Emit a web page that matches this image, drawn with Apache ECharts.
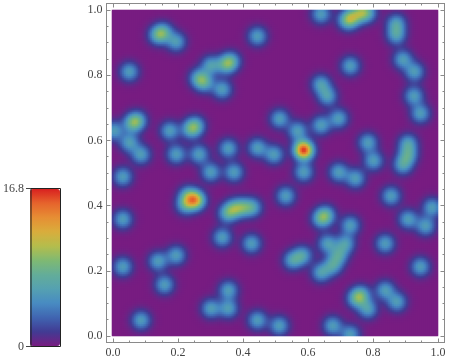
<!DOCTYPE html>
<html><head><meta charset="utf-8">
<style>html,body{margin:0;padding:0;background:#fff}#c{width:450px;height:359px}</style>
<script src="https://cdn.jsdelivr.net/npm/echarts@6/dist/echarts.min.js"></script>
</head><body><div id="c"></div>
<script>
// Sample locations, one entry per kernel. The smooth surface is
// a kernel density built from these read locations (the reference is itself such a density).
const pointX = [0.141,0.159,0.198,0.447,0.054,0.350,0.366,0.304,0.267,0.285,0.339,0.063,0.079,0.242,0.258,0.006,0.178,0.515,0.054,0.090,0.198,0.268,0.358,0.447,0.498,0.304,0.375,0.034,
0.642,0.762,0.784,0.736,0.722,0.873,0.873,0.732,0.893,0.929,0.642,0.662,0.927,0.947,0.696,0.642,0.570,0.585,0.589,0.593,0.786,0.803,0.909,0.909,0.893,0.589,0.696,0.748,
0.258,0.258,0.234,0.226,0.034,0.355,0.375,0.401,0.432,0.339,0.429,0.198,0.142,0.034,0.162,0.358,0.304,0.358,0.090,0.447,0.514,
0.534,0.857,0.983,0.909,0.963,0.642,0.658,0.732,0.662,0.717,0.696,0.678,0.642,0.586,0.555,0.839,0.947,0.839,0.875,0.750,0.766,0.786,0.678,0.732];
const pointY = [0.923,0.933,0.903,0.920,0.811,0.832,0.844,0.831,0.792,0.778,0.757,0.652,0.662,0.634,0.646,0.630,0.630,0.667,0.594,0.557,0.558,0.558,0.576,0.578,0.557,0.503,0.503,0.489,
0.988,0.992,0.992,0.976,0.968,0.959,0.923,0.829,0.849,0.811,0.773,0.736,0.737,0.683,0.668,0.647,0.630,0.571,0.575,0.567,0.594,0.538,0.591,0.555,0.525,0.503,0.503,0.484,
0.417,0.417,0.432,0.402,0.359,0.376,0.392,0.395,0.395,0.303,0.284,0.248,0.230,0.213,0.158,0.141,0.085,0.085,0.049,0.049,0.032,
0.430,0.430,0.395,0.359,0.338,0.360,0.372,0.340,0.284,0.284,0.248,0.216,0.195,0.248,0.233,0.284,0.213,0.141,0.105,0.115,0.127,0.083,0.032,0.005];
const kernelPeak = 5.6, kernelWidth = 0.02;
const cellsPerSide = 163;
const scaleMax = 16.8;
const rainbow = ['#781C81','#413B93','#4065B1','#488BC2','#55A1B1','#63AD99','#7FB972','#B5BD4C','#D9AD3C','#E68E34','#E6642C','#D92120'];
const majorTicks = [0,0.2,0.4,0.6,0.8,1];
const minorTicks = [0.05,0.1,0.15,0.25,0.3,0.35,0.45,0.5,0.55,0.65,0.7,0.75,0.85,0.9,0.95];

const cats = [], cells = [];
for (let i = 0; i < cellsPerSide; i++) cats.push(i);
for (let i = 0; i < cellsPerSide; i++) for (let j = 0; j < cellsPerSide; j++) {
  const x = (i + 0.5) / cellsPerSide, y = (j + 0.5) / cellsPerSide;
  let v = 0;
  for (let k = 0; k < pointX.length; k++) {
    const dx = x - pointX[k], dy = y - pointY[k];
    v += kernelPeak * Math.exp(-(dx*dx + dy*dy) / (2 * kernelWidth * kernelWidth));
  }
  cells.push([i, j, Math.min(v, scaleMax)]);
}
const font = {fontFamily:'"Liberation Serif", serif', fontSize:12, color:'#444'};
const lineCol = '#8a8a8a';
const frame = {left:106.5, top:3.5, width:338, height:339, show:false};
function ax(idx, pos, custom, len, labels) {
  return {gridIndex:idx, type:'value', position:pos, min:-0.02, max:1.02, splitLine:{show:false},
    axisLine:{show:true, onZero:false, lineStyle:{color:lineCol, width:1}},
    axisTick:{show:true, inside:true, length:len, customValues:custom, lineStyle:{color:lineCol, width:1}},
    axisLabel: labels ? Object.assign({show:true, margin:4, customValues:majorTicks, hideOverlap:false, showMinLabel:true, showMaxLabel:true, formatter:v=>Number(v).toFixed(1)}, font) : {show:false}};
}
const chart = echarts.init(document.getElementById('c'), null, {renderer:'canvas'});
chart.setOption({
  animation:false,
  backgroundColor:'#fff',
  grid:[
    {left:112, top:10, width:326, height:326, show:false},
    frame, frame, frame, frame,
    {left:29.5, top:188.5, width:31, height:158, show:true, borderColor:'#222', borderWidth:1, backgroundColor:'transparent', z:10}
  ],
  xAxis:[
    {gridIndex:0, type:'category', data:cats, show:false},
    ax(1,'bottom',majorTicks,4,true),
    ax(2,'top',majorTicks,4,false),
    ax(3,'bottom',minorTicks,2,false),
    ax(4,'top',minorTicks,2,false),
    {gridIndex:5, type:'value', min:0, max:1, show:false}
  ],
  yAxis:[
    {gridIndex:0, type:'category', data:cats, show:false},
    ax(1,'left',majorTicks,4,true),
    ax(2,'right',majorTicks,4,false),
    ax(3,'left',minorTicks,2,false),
    ax(4,'right',minorTicks,2,false),
    {gridIndex:5, type:'value', min:0, max:scaleMax, position:'left', splitLine:{show:false}, z:10,
      axisLine:{show:false},
      axisTick:{show:true, length:5, customValues:[0,scaleMax], lineStyle:{color:'#444'}},
      axisLabel:Object.assign({margin:7, customValues:[0,scaleMax], showMinLabel:true, showMaxLabel:true, formatter:v=>v===0?'0':String(v)}, font)}
  ],
  visualMap:{type:'continuous', seriesIndex:0, min:0, max:scaleMax, inRange:{color:rainbow}, calculable:false, show:true,
    left:30, top:189, itemWidth:30, itemHeight:157, padding:0, text:null, showLabel:false, z:1, borderWidth:0},
  series:[{type:'heatmap', xAxisIndex:0, yAxisIndex:0, data:cells, progressive:0, animation:false, silent:true, emphasis:{disabled:true}, itemStyle:{borderWidth:0}}]
});
</script></body></html>
